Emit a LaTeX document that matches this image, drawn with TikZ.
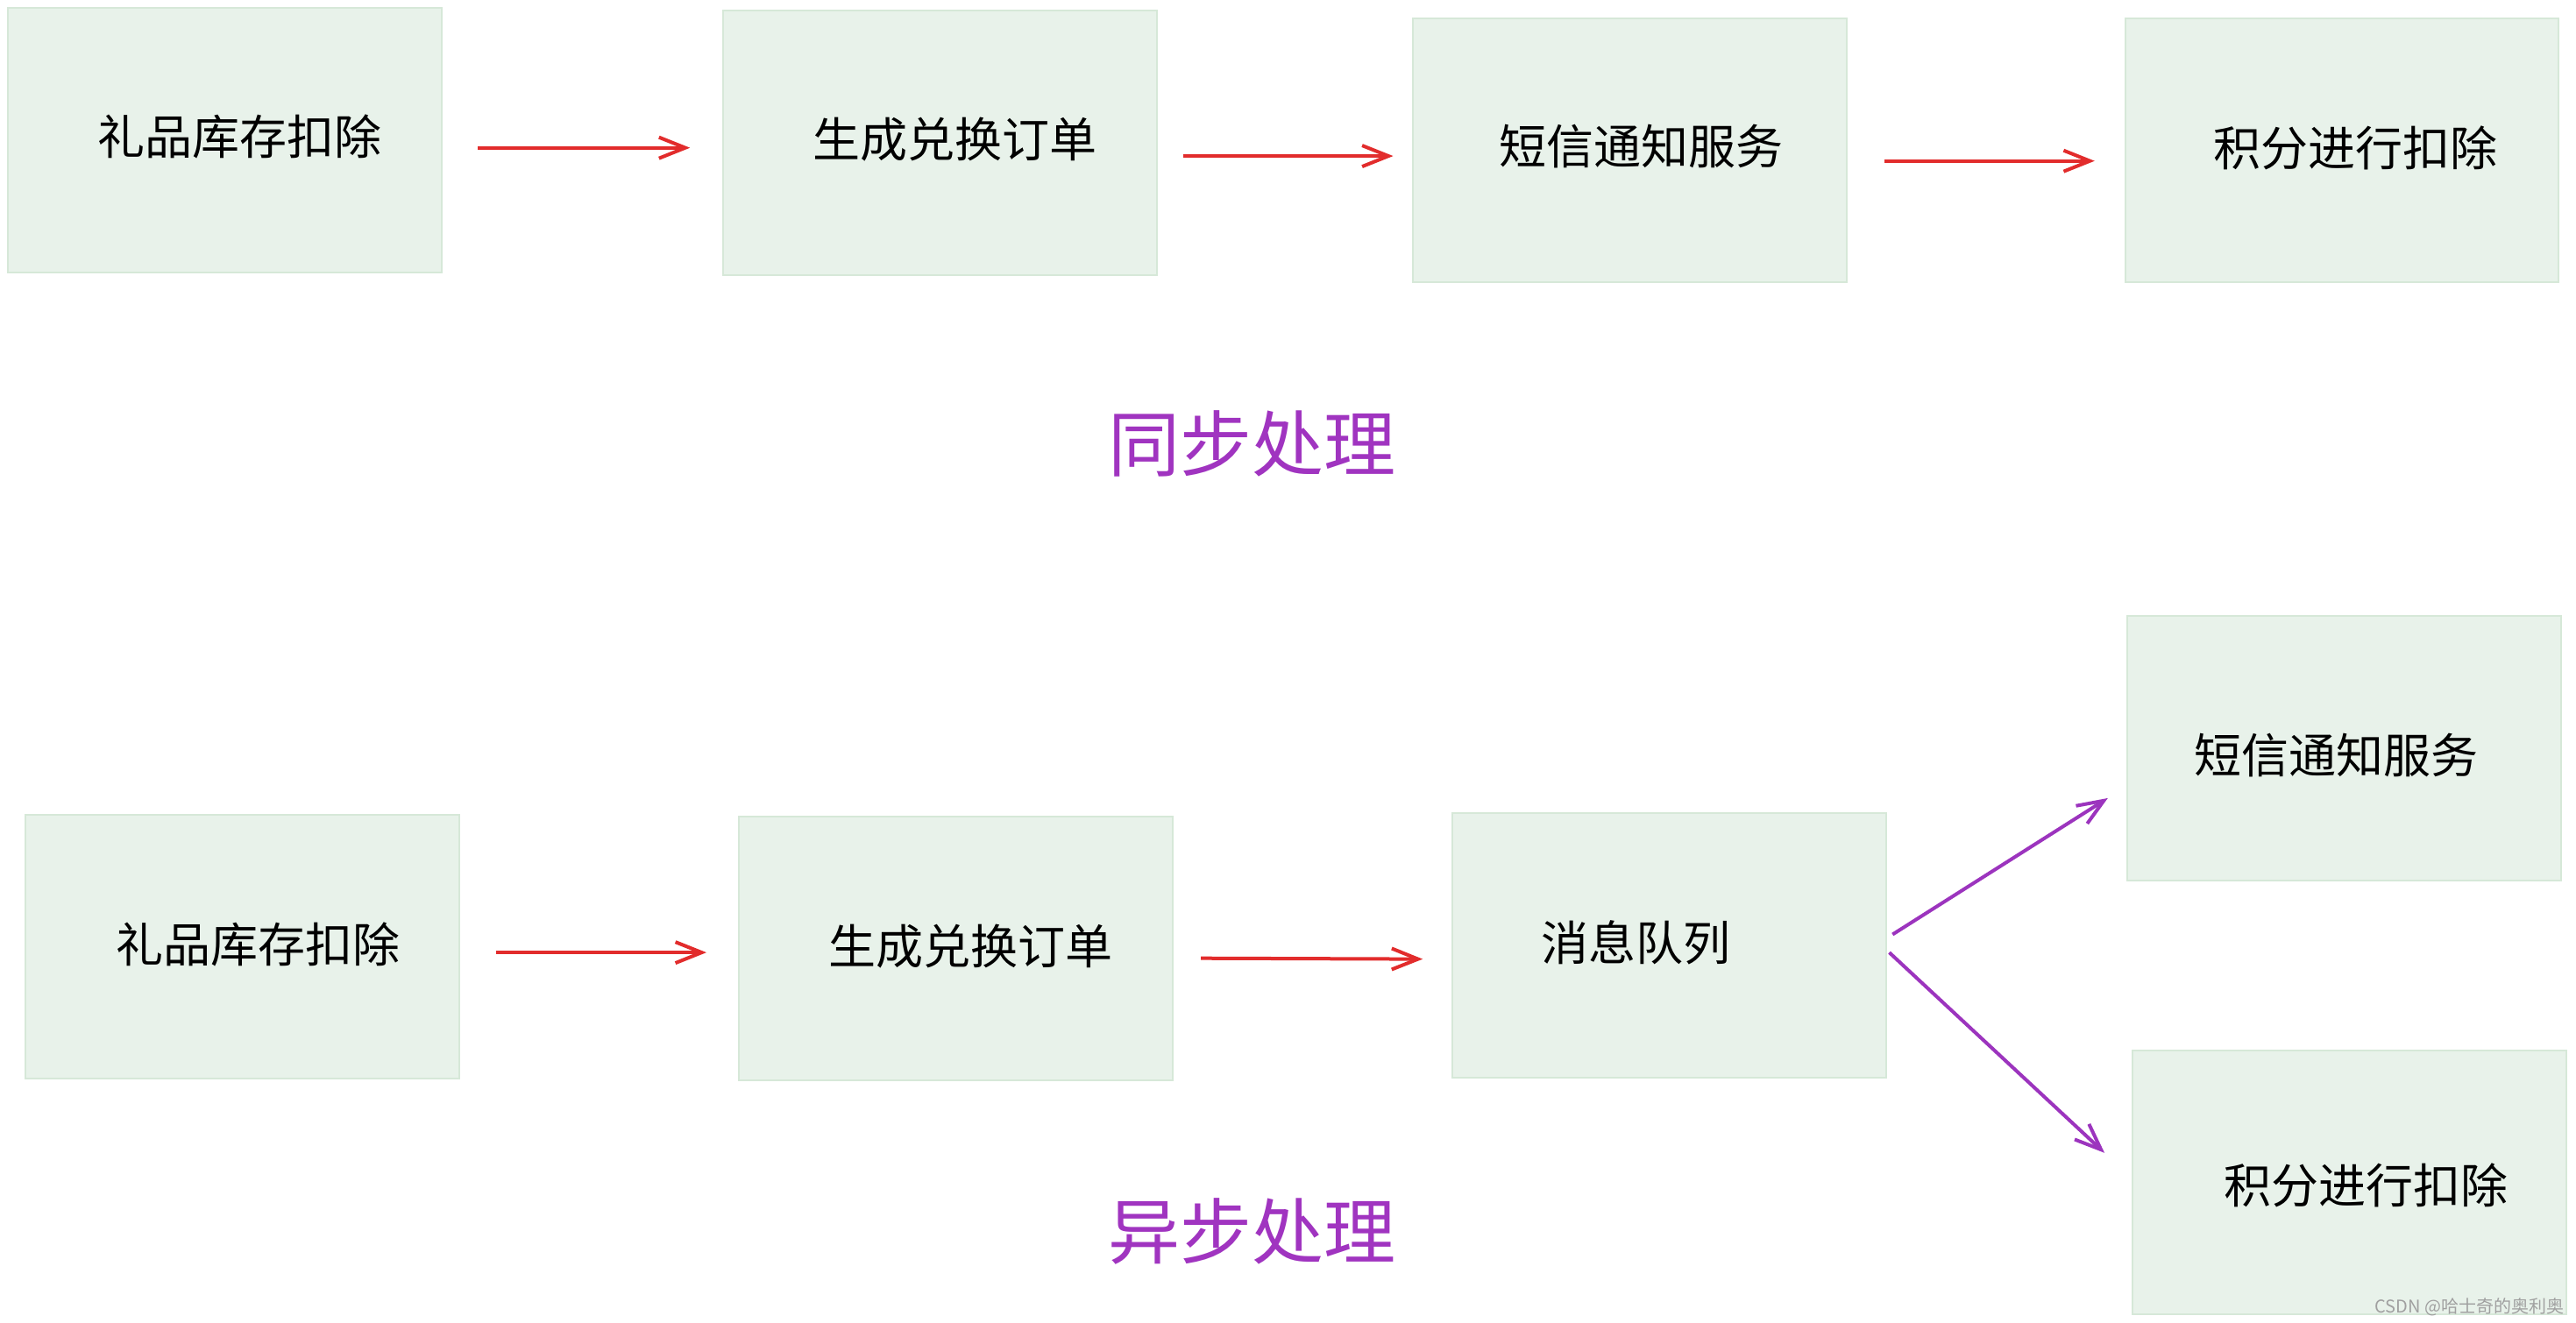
\documentclass[tikz,border=0pt]{standalone}
\usepackage{fontspec}
\setmainfont{Noto Sans CJK SC}
\usetikzlibrary{arrows.meta}
\definecolor{boxfill}{RGB}{232,242,234}
\definecolor{boxline}{RGB}{214,232,216}
\definecolor{arrred}{RGB}{226,44,44}
\definecolor{arrpurple}{RGB}{156,52,190}
\definecolor{lblpurple}{RGB}{160,52,192}
\definecolor{wmgrey}{RGB}{160,160,160}
\tikzset{
  stagebox/.style={draw=boxline, line width=2pt, fill=boxfill, minimum width=494.8pt, minimum height=301.8pt, inner sep=0pt},
  boxtext/.style={font=\fontsize{54pt}{60pt}\selectfont, text=black, inner sep=0pt},
  modelabel/.style={font=\fontsize{82pt}{90pt}\selectfont, text=lblpurple, inner sep=0pt},
  redarrow/.style={draw=arrred, line width=4pt, -{Straight Barb[length=30pt,width=24pt,line width=4pt]}},
  purplearrow/.style={draw=arrpurple, line width=4pt, -{Straight Barb[length=30pt,width=24pt,line width=4pt]}},
  watermark/.style={font=\fontsize{20pt}{22pt}\selectfont, text=wmgrey, inner sep=0pt}
}
\begin{document}
\begin{tikzpicture}[x=1.8744pt,y=-1.8744pt]
\useasboundingbox[fill=white] (0,0) rectangle (1568,805.6);
% synchronous row
\node[stagebox] (t1) at (137,85.5) {};
\node[stagebox] (t2) at (572,87) {};
\node[stagebox] (t3) at (992,91.5) {};
\node[stagebox] (t4) at (1425.5,91.5) {};
\node[boxtext] (t1txt) at (146,83) {礼品库存扣除};
\node[boxtext] (t2txt) at (581,85) {生成兑换订单};
\node[boxtext] (t3txt) at (999,89) {短信通知服务};
\node[boxtext] (t4txt) at (1434,90) {积分进行扣除};
\coordinate (ta1s) at (291,90); \coordinate (ta1e) at (420,90);
\coordinate (ta2s) at (720,95); \coordinate (ta2e) at (848,95);
\coordinate (ta3s) at (1147,98); \coordinate (ta3e) at (1275,98);
\draw[redarrow] (ta1s) -- (ta1e);
\draw[redarrow] (ta2s) -- (ta2e);
\draw[redarrow] (ta3s) -- (ta3e);
\node[modelabel] (synclbl) at (762,270) {同步处理};
% asynchronous row
\node[stagebox] (b1) at (147.5,576.5) {};
\node[stagebox] (b2) at (582,577.5) {};
\node[stagebox] (b3) at (1016,575.5) {};
\node[stagebox] (b4) at (1427,455.5) {};
\node[stagebox] (b5) at (1430,720) {};
\node[boxtext] (b1txt) at (157,575) {礼品库存扣除};
\node[boxtext] (b2txt) at (591,576) {生成兑换订单};
\node[boxtext] (b3txt) at (996,574) {消息队列};
\node[boxtext] (b4txt) at (1422,460) {短信通知服务};
\node[boxtext] (b5txt) at (1440,722) {积分进行扣除};
\coordinate (ba1s) at (302,580); \coordinate (ba1e) at (430,580);
\coordinate (ba2s) at (731,583.5); \coordinate (ba2e) at (866,584);
\coordinate (ba3s) at (1152,569); \coordinate (ba3e) at (1283,486);
\coordinate (ba4s) at (1150,580); \coordinate (ba4e) at (1281,702);
\draw[redarrow] (ba1s) -- (ba1e);
\draw[redarrow] (ba2s) -- (ba2e);
\draw[purplearrow] (ba3s) -- (ba3e);
\draw[purplearrow] (ba4s) -- (ba4e);
\node[modelabel] (asynclbl) at (762,750) {异步处理};
\node[watermark] (wm) at (1503,796) {CSDN @哈士奇的奥利奥};
\end{tikzpicture}
\end{document}
